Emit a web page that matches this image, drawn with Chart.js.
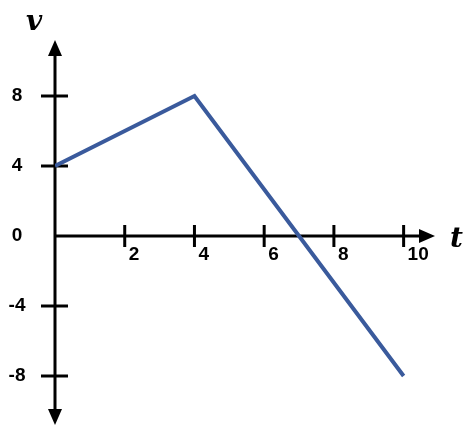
<!DOCTYPE html>
<html>
<head>
<meta charset="utf-8">
<script src="https://cdn.jsdelivr.net/npm/chart.js@4"></script>
<style>
  html, body { margin: 0; padding: 0; background: #fff; }
  #wrap { width: 474px; height: 443px; }
</style>
</head>
<body>
<div id="wrap"><canvas id="chart"></canvas></div>
<script>
const timeValues = [0, 4, 10];
const speedValues = [4, 8, -8];
const xTicks = [2, 4, 6, 8, 10];
const yTicks = [8, 4, 0, -4, -8];

// draws the cross-shaped axes with arrows, like a textbook figure
const axesPlugin = {
    id: 'axes',
    beforeDatasetsDraw(chart) {
        const c = chart.ctx;
        const xs = chart.scales.x, ys = chart.scales.y;
        const x0 = xs.getPixelForValue(0), y0 = ys.getPixelForValue(0);
        const area = chart.chartArea;
        c.save();
        c.strokeStyle = '#000';
        c.fillStyle = '#000';
        c.lineWidth = 3;
        c.beginPath();
        c.moveTo(x0, area.top + 6); c.lineTo(x0, area.bottom - 6);
        c.moveTo(x0, y0); c.lineTo(area.right - 6, y0);
        c.stroke();
        // arrows
        c.beginPath();
        c.moveTo(x0, area.top); c.lineTo(x0 - 7, area.top + 16); c.lineTo(x0 + 7, area.top + 16); c.closePath();
        c.moveTo(x0, area.bottom); c.lineTo(x0 - 7, area.bottom - 16); c.lineTo(x0 + 7, area.bottom - 16); c.closePath();
        c.moveTo(area.right, y0); c.lineTo(area.right - 16, y0 - 7); c.lineTo(area.right - 16, y0 + 7); c.closePath();
        c.fill();
        c.font = "bold 19px 'Liberation Sans Narrow', 'Liberation Sans', sans-serif";
        // y ticks
        c.textAlign = 'center'; c.textBaseline = 'middle';
        yTicks.forEach(v => {
            const y = ys.getPixelForValue(v);
            if (v !== 0) {
                c.beginPath(); c.moveTo(x0 - 14, y); c.lineTo(x0 + 13, y); c.stroke();
            }
            c.fillText(String(v), 17, y);
        });
        // x ticks
        c.textAlign = 'left'; c.textBaseline = 'top';
        xTicks.forEach(v => {
            const x = xs.getPixelForValue(v);
            c.beginPath(); c.moveTo(x, y0 - 11); c.lineTo(x, y0 + 11); c.stroke();
            c.fillText(String(v), x + 4, y0 + 9);
        });
        c.font = "italic bold 28px 'DejaVu Serif', serif";
        c.textAlign = 'left'; c.textBaseline = 'alphabetic';
        c.fillText('v', 26, 30);
        c.fillText('t', 450, 247);
        c.restore();
    }
};

new Chart(document.getElementById('chart'), {
    type: 'line',
    data: {
        datasets: [{
            data: timeValues.map((t, i) => ({ x: t, y: speedValues[i] })),
            borderColor: '#3a5a9c',
            borderWidth: 4,
            pointRadius: 0,
            tension: 0,
            fill: false,
        }],
    },
    options: {
        responsive: true,
        maintainAspectRatio: false,
        animation: false,
        layout: { padding: { left: 55, right: 39, top: 40, bottom: 18 } },
        plugins: { legend: { display: false }, tooltip: { enabled: false } },
        scales: {
            x: { type: 'linear', min: 0, max: 10.9, display: false },
            y: { min: -10.8, max: 11.2, display: false },
        },
    },
    plugins: [axesPlugin],
});
</script>
</body>
</html>
